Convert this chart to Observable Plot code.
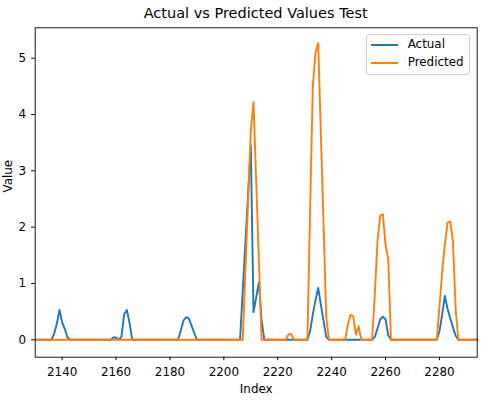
<!DOCTYPE html>
<html><head><meta charset="utf-8">
<script src="https://cdn.jsdelivr.net/npm/d3@7"></script>
<script src="https://cdn.jsdelivr.net/npm/@observablehq/plot@0.6"></script>
<style>
body{margin:0;background:#fff;font-family:"DejaVu Sans",sans-serif;}
#wrap{position:relative;width:500px;height:402px;}
#title{height:26px;line-height:27px;margin-left:34.7px;width:442px;text-align:center;font-size:14.5px;color:#000;white-space:nowrap;}
#legend{position:absolute;left:366px;top:34px;width:104px;height:41px;box-sizing:border-box;border:1px solid #cfcfcf;border-radius:3px;background:rgba(255,255,255,0.8);font-size:11.9px;color:#000;}
.sw{position:absolute;left:4px;width:27px;height:2px;}
.lab{position:absolute;left:40.7px;white-space:nowrap;line-height:14px;}
</style></head>
<body>
<div id="wrap"><div id="title"></div><div id="chart"></div><div id="legend"></div></div>
<script>
const titleText = "Actual vs Predicted Values Test";
const xLabel = "Index";
const yLabel = "Value";
const seriesNames = ["Actual", "Predicted"];
const seriesColors = ["#1f77b4", "#ff7f0e"];
const indexStart = 2130;
const xTicks = [2140, 2160, 2180, 2200, 2220, 2240, 2260, 2280];
const yTicks = [0, 1, 2, 3, 4, 5];

// values for index 2130 .. 2294
const actual = [
  0,0,0,0,0,0,0,0.1,0.28,0.53,
  0.31,0.19,0.04,0,0,0,0,0,0,0,
  0,0,0,0,0,0,0,0,0,0.04,
  0.04,0,0.05,0.45,0.53,0.3,0,0,0,0,
  0,0,0,0,0,0,0,0,0,0,
  0,0,0,0,0.16,0.34,0.4,0.38,0.25,0.12,
  0,0,0,0,0,0,0,0,0,0,
  0,0,0,0,0,0,0,0.86,1.73,2.6,
  3.45,0.49,0.75,1.02,0.35,0,0,0,0,0,
  0,0,0,0,0,0,0,0,0,0,
  0,0,0.15,0.45,0.7,0.92,0.62,0.33,0.05,0,
  0,0,0,0,0,0,0,0,0,0,
  0,0,0,0,0,0,0.05,0.2,0.36,0.41,
  0.36,0.08,0,0,0,0,0,0,0,0,
  0,0,0,0,0,0,0,0,0,0,
  0.15,0.45,0.78,0.55,0.38,0.22,0.07,0,0,0,
  0,0,0,0,0
];
const predicted = [
  0,0,0,0,0,0,0,0,0,0,
  0,0,0,0,0,0,0,0,0,0,
  0,0,0,0,0,0,0,0,0,0,
  0,0,0,0,0,0,0,0,0,0,
  0,0,0,0,0,0,0,0,0,0,
  0,0,0,0,0,0,0,0,0,0,
  0,0,0,0,0,0,0,0,0,0,
  0,0,0,0,0,0,0,0,1.23,2.47,
  3.7,4.22,2.81,1.41,0,0,0,0,0,0,
  0,0,0,0,0.1,0.1,0,0,0,0,
  0,0,2.3,4.5,5.1,5.27,3.65,2.03,0.4,0,
  0,0,0,0,0,0,0.27,0.44,0.42,0.09,
  0.24,0,0,0,0,0,0.8,1.75,2.2,2.23,
  1.68,1.43,0,0,0,0,0,0,0,0,
  0,0,0,0,0,0,0,0,0,0,
  0.6,1.2,1.7,2.08,2.1,1.75,0.55,0,0,0,
  0,0,0,0,0
];

const rows = actual.map((v, i) => ({index: indexStart + i, actual: v, predicted: predicted[i]}));

document.getElementById("title").textContent = titleText;

const chart = Plot.plot({
  width: 500, height: 376,
  marginTop: 1.3, marginBottom: 45.3, marginLeft: 34.7, marginRight: 23.3,
  style: {fontFamily: "DejaVu Sans", fontSize: "11.9px", color: "#000", background: "white"},
  x: {domain: [2130, 2294], label: null},
  y: {domain: [-0.31, 5.54], label: null},
  marks: [
    Plot.axisX({ticks: xTicks, tickSize: 3.5, tickPadding: 7, tickFormat: "d", label: null}),
    Plot.axisY({ticks: yTicks, tickSize: 3.5, tickPadding: 5.5, tickFormat: "d", label: null}),
    Plot.lineY(rows, {x: "index", y: "actual", stroke: seriesColors[0], strokeWidth: 1.9, strokeLinejoin: "round"}),
    Plot.lineY(rows, {x: "index", y: "predicted", stroke: seriesColors[1], strokeWidth: 1.9, strokeLinejoin: "round"}),
    Plot.frame({stroke: "#000", strokeWidth: 0.9}),
    Plot.text([xLabel], {frameAnchor: "bottom", dy: 36, text: d => d, fontSize: 11.9}),
    Plot.text([yLabel], {frameAnchor: "left", dx: -27, rotate: -90, text: d => d, fontSize: 11.9})
  ]
});
document.getElementById("chart").appendChild(chart);

const legend = document.getElementById("legend");
const rowY = [10, 28.3];
seriesNames.forEach((name, i) => {
  const sw = document.createElement("div");
  sw.className = "sw";
  sw.style.background = seriesColors[i];
  sw.style.top = (rowY[i] - 1) + "px";
  legend.appendChild(sw);
  const lab = document.createElement("div");
  lab.className = "lab";
  lab.textContent = name;
  lab.style.top = (rowY[i] - 8) + "px";
  legend.appendChild(lab);
});
</script>
</body></html>
